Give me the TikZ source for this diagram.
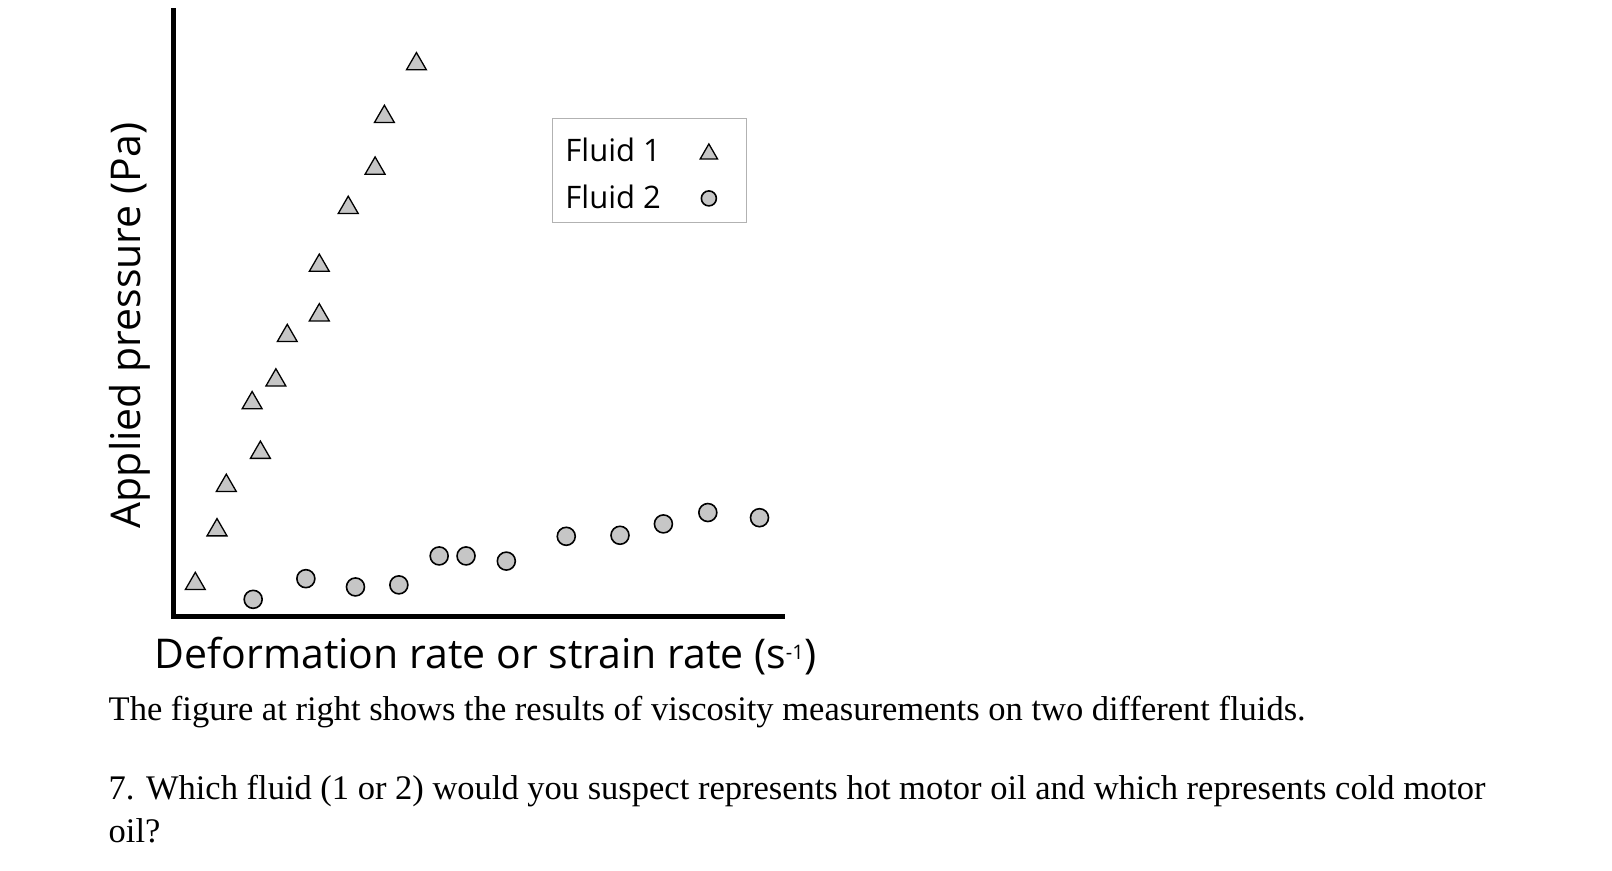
\documentclass[tikz,border=0pt]{standalone}
\usepackage{fontspec}
\setmainfont{Liberation Serif}
\newfontfamily\hand{Open Sans}
\usetikzlibrary{shapes.geometric}
\begin{document}
\begin{tikzpicture}[x=1.0333pt,y=-1.0333pt,
  tri/.style={regular polygon,regular polygon sides=3,draw,fill=gray!45,line width=1.3pt,minimum size=23pt,inner sep=0pt},
  circ/.style={circle,draw,fill=gray!45,line width=1.6pt,minimum size=18pt,inner sep=0pt},
  body/.style={anchor=west,font=\fontsize{34.5}{38}\selectfont,inner sep=0pt}]
\useasboundingbox (0,0) rectangle (1560,842);
\fill[white] (0,0) rectangle (1560,842);
\coordinate (top) at (168,8); \coordinate (org) at (168,597); \coordinate (xend) at (760,597);
\draw[line width=5pt] (top) -- (org) -- (xend);
\foreach \x/\y [count=\i] in {189/565,210/513,219/470,252/438,244/390,267/368,278/325,309/305,309/257,337/201,363/163,372/113,403/62}
  \node[tri] (t\i) at (\x,\y) {};
\foreach \x/\y [count=\i] in {245/580,296/560,344/568,386/566,425/538,451/538,490/543,548/519,600/518,642/507,685/496,735/501}
  \node[circ] (c\i) at (\x,\y) {};
\node[draw=gray!60,line width=1pt,minimum width=194pt,minimum height=103pt] (leg) at (629,165) {};
\node[anchor=west,font=\hand\fontsize{31}{33}\selectfont,inner sep=0pt] (l1) at (547,145) {Fluid 1};
\node[anchor=west,font=\hand\fontsize{31}{33}\selectfont,inner sep=0pt] (l2) at (547,191) {Fluid 2};
\node[tri,minimum size=20pt] (lt) at (686,149) {};
\node[circ,minimum size=15pt] (lc) at (686,192) {};
\node[rotate=90,font=\hand\fontsize{41}{43}\selectfont] (yl) at (126,315) {Applied pressure (Pa)};
\node[font=\hand\fontsize{41}{43}\selectfont] (xl) at (470,635) {Deformation rate or strain rate (s$^{\mbox{\fontsize{20}{20}\selectfont-1}}$)};
\node[body] (p1) at (105,689) {The figure at right shows the results of viscosity measurements on two different fluids.};
\node[body] (p2) at (105,766) {7. Which fluid (1 or 2) would you suspect represents hot motor oil and which represents cold motor};
\node[body] (p3) at (105,804) {oil?};
\end{tikzpicture}
\end{document}
